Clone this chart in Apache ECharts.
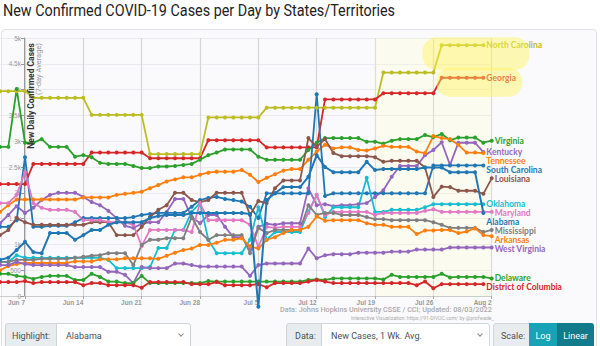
<!DOCTYPE html>
<html><head><meta charset="utf-8">
<script src="https://cdn.jsdelivr.net/npm/echarts/dist/echarts.min.js"></script>
<style>
html,body{margin:0;padding:0;width:600px;height:346px;overflow:hidden;background:#fff;font-family:Roboto,"Noto Sans",sans-serif;}
#title{position:absolute;left:3px;top:1px;font-size:16px;line-height:20px;color:#222;white-space:nowrap;transform-origin:0 0;}
#frame{position:absolute;left:1px;top:29px;width:596px;height:330px;border:1px solid #e2e2e6;border-radius:4px;background:#fafafc;box-sizing:border-box;}
#chart{position:absolute;left:0;top:0;width:600px;height:346px;}
.note{position:absolute;white-space:nowrap;color:#aaa;transform-origin:100% 50%;}
.box{position:absolute;top:323px;height:26px;line-height:24px;border:1px solid #ced4da;box-sizing:border-box;font-size:9px;color:#495057;white-space:nowrap;}
.pre{background:#e9ecef;}
.sel{background:#fff;}
.btn{color:#fff;text-align:center;border-color:transparent;}
.caret{position:absolute;right:7px;top:8px;width:3px;height:3px;border-right:1px solid #888;border-bottom:1px solid #888;transform:rotate(45deg);}
</style></head>
<body>
<div id="frame"></div>
<div id="title">New Confirmed COVID-19 Cases per Day by States/Territories</div>
<div id="chart"></div>
<div class="note" id="n1" style="font-size:7.5px;line-height:8px;font-weight:500;">Data: Johns Hopkins University CSSE / CCI; Updated: 08/03/2022</div>
<div class="note" id="n2" style="font-size:5px;line-height:5px;">Interactive Visualization: https://91-DIVOC.com/ by @profwade_</div>
<div class="box pre" style="left:5px;width:52px;padding-left:6px;border-radius:3px 0 0 3px;">Highlight:</div>
<div class="box sel" style="left:56px;width:135px;padding-left:9px;border-radius:0 3px 3px 0;">Alabama<span class="caret"></span></div>
<div class="box pre" style="left:286px;width:36px;padding-left:8px;border-radius:3px 0 0 3px;">Data:</div>
<div class="box sel" style="left:321px;width:169px;padding-left:9px;border-radius:0 3px 3px 0;">New Cases, 1 Wk. Avg.<span class="caret"></span></div>
<div class="box pre" style="left:493px;width:37px;padding-left:7px;border-radius:3px 0 0 3px;">Scale:</div>
<div class="box btn" style="left:529px;width:28px;background:#17a2b8;">Log</div>
<div class="box btn" style="left:557px;width:37px;background:#117a8b;border-radius:0 3px 3px 0;">Linear</div>
<script>
// ---- categories (Jun 4 .. Aug 2) ----
const dates = ['Jun 4','Jun 5','Jun 6','Jun 7','Jun 8','Jun 9','Jun 10','Jun 11','Jun 12','Jun 13','Jun 14','Jun 15','Jun 16','Jun 17','Jun 18','Jun 19','Jun 20','Jun 21','Jun 22','Jun 23','Jun 24','Jun 25','Jun 26','Jun 27','Jun 28','Jun 29','Jun 30',
'Jul 1','Jul 2','Jul 3','Jul 4','Jul 5','Jul 6','Jul 7','Jul 8','Jul 9','Jul 10','Jul 11','Jul 12','Jul 13','Jul 14','Jul 15','Jul 16','Jul 17','Jul 18','Jul 19','Jul 20','Jul 21','Jul 22','Jul 23','Jul 24','Jul 25','Jul 26','Jul 27','Jul 28','Jul 29','Jul 30','Jul 31','Aug 1','Aug 2'];
const tickLabels = ['Jun 7','Jun 14','Jun 21','Jun 28','Jul 5','Jul 12','Jul 19','Jul 26','Aug 2'];
const yTicks = [0,500,1000,1500,2000,2500,3000,3500,4000,4500,5000];

// ---- series values (7-day average new cases) ----
const northCarolina = [3970,3970,3970,3970,3840,3840,3840,3840,3840,3840,3840,3510,3510,3510,3510,3510,3510,3510,2750,2750,2750,2750,2750,2750,2750,3460,3460,3460,3460,3460,3460,3460,3650,3650,3650,3650,3650,3650,3650,3650,3650,3650,3650,3650,3650,3650,4330,4330,4330,4330,4330,4330,4330,4860,4860,4860,4860,4860,4860];
const georgia = [2170,2170,2170,2170,2560,2560,2560,2560,2560,2560,2560,2780,2780,2780,2780,2780,2780,2780,2670,2670,2670,2670,2670,2670,2670,3020,3020,3020,3020,3020,3020,3020,2880,2880,2880,2880,2880,2880,2880,3810,3810,3810,3810,3810,3810,3810,3930,3930,3930,3930,3930,3930,3930,4230,4230,4230,4230,4230,4230];
const virginia = [2890,2890,4010,2970,2970,3040,2890,2890,2890,2700,2730,2690,2580,2560,2560,2560,2520,2480,2480,2510,2510,2520,2540,2560,2640,2730,2780,2840,2840,2840,2840,2700,2640,2640,2640,2640,2640,2830,2970,3060,3060,3060,3060,3060,2990,2990,2950,3010,3040,3040,3040,3120,3080,3140,3020,3070,3070,3070,2970,3010];
const kentucky = [1410,1570,1740,1610,1710,1860,1960,2000,2000,2000,1920,1820,1760,1650,1510,1360,1320,1400,1430,1430,1630,1880,1880,1530,1410,1570,1570,1340,1140,1140,930,1340,1400,1380,1410,1410,1410,2090,1760,1780,1740,1760,1760,1780,1800,1920,2050,2310,2520,2520,2520,2730,2830,2980,2540,2970,2970,2970,2790];
const tennessee = [1630,1760,1870,1870,1870,1870,1870,1870,1870,1870,1910,1910,1910,1910,1960,1980,2000,2020,2090,2150,2220,2260,2300,2300,2350,2390,2410,2410,2410,2440,2350,2210,2290,2360,2430,2460,2460,2640,2800,2930,2860,2880,2880,2830,2820,2860,2910,2890,2890,2890,2800,2770,3100,3060,3040,2930,2780,2780,2770];
const southCarolina = [1340,1340,1470,2690,1340,1340,1360,1360,1360,1430,1510,1510,1510,1510,1510,1510,1530,1570,1590,1610,1610,1610,1610,1730,1860,1900,1920,1880,1860,1830,1730,1510,1990,1990,1990,1990,1990,1990,3910,1940,1990,1990,1990,1990,1990,1990,1990,1990,1990,1990,1990,1990,2530,2530,2530,2530,2530,2530,2530];
const louisiana = [1180,1280,1510,1430,1380,1380,1380,1380,1380,1380,1380,1430,1430,1430,1180,1180,1180,1340,1530,1670,1760,2000,2000,1860,1820,1860,2000,2000,2000,2000,1570,1840,1800,2090,2240,2240,2240,3060,2890,3040,2770,2710,2710,2710,2710,2690,2600,2620,2620,2620,2620,2490,1920,2120,2110,2040,2040,2040,1980,2280];
const oklahoma = [660,660,790,740,740,740,740,740,740,740,740,740,740,700,540,540,540,540,560,930,930,1280,1280,1630,1800,1090,830,830,830,830,1090,1720,1090,1240,1240,1240,1240,1630,1960,1530,1720,1720,1720,1720,2290,1630,1630,1670,1670,1670,1670,1720,1780,1780,1780,1780,1780,1780,1780];
const maryland = [1800,1800,1960,2400,1800,1710,1670,1670,1670,1630,1470,1470,1470,1430,1430,1430,1380,970,1280,1280,1280,1280,1280,1240,1800,1470,1470,1470,1470,1470,1380,950,1340,1320,1340,1340,1340,1610,1960,1570,1630,1630,1630,1630,1630,1570,1610,1610,1610,1610,1610,1650,1680,1630,1630,1630,1630,1630,1630,1630];
const alabama = [700,740,890,1050,850,830,1220,1220,1220,1090,1180,1280,1280,1380,1430,1430,1430,1430,1510,1550,1570,1570,1570,1610,1610,1610,1610,1610,1610,1610,1590,-210,1860,1990,2110,2110,2110,2310,2730,2500,2400,2400,2400,2400,2600,2440,2460,2460,2460,2460,2460,2490,2490,2490,2400,2400,2400,2400,1610];
const mississippi = [660,660,700,700,700,720,720,720,720,740,760,780,790,830,830,830,600,990,1090,1090,1120,1120,1120,1530,1240,1090,1180,1180,1180,1180,830,1320,1220,1280,1280,1280,1280,1760,1570,1610,1610,1570,1570,1570,1530,1490,1490,1470,1470,1470,1470,1470,1430,1380,1320,1320,1320,1320,1240,1280];
const arkansas = [500,580,620,640,640,640,640,640,640,670,670,670,710,710,710,730,730,730,730,720,780,840,890,920,990,990,1030,1090,1090,1120,960,920,1090,1140,1220,1280,1280,1340,1540,1460,1470,1470,1470,1470,1410,1380,1380,1340,1340,1340,1200,1270,1270,1280,1280,1220,1250,1310,1180,1160];
const westVirginia = [600,600,660,620,600,600,600,600,600,560,560,560,560,470,470,410,250,560,540,540,540,630,630,600,570,570,570,570,570,570,390,600,630,630,630,630,630,920,730,790,810,810,810,840,840,840,840,860,860,860,900,900,900,900,940,940,940,940,940,940];
const delaware = [430,430,390,370,330,370,390,390,390,310,310,430,370,280,280,250,250,390,250,250,250,250,250,250,250,290,280,280,280,280,280,280,280,280,280,280,280,310,320,310,340,340,340,340,340,340,320,410,370,370,370,370,370,430,360,370,370,370,370,340];
const districtOfColumbia = [270,270,270,290,250,270,270,270,270,270,210,250,250,210,210,210,210,160,270,270,270,270,270,230,230,230,270,210,210,210,210,230,170,250,250,250,250,280,310,280,250,250,250,250,250,250,250,250,250,250,210,280,150,230,230,230,230,230,230];

const seriesNames = ['North Carolina','Georgia','Virginia','Kentucky','Tennessee','South Carolina','Louisiana','Oklahoma','Maryland','Alabama','Mississippi','Arkansas','West Virginia','Delaware','District of Columbia'];
const seriesValues = [northCarolina,georgia,virginia,kentucky,tennessee,southCarolina,louisiana,oklahoma,maryland,alabama,mississippi,arkansas,westVirginia,delaware,districtOfColumbia];
const seriesColors = ['#bcbd22','#d62728','#2ca02c','#9467bd','#ff7f0e','#1f77b4','#8c564b','#17becf','#e377c2','#1f77b4','#7f7f7f','#ff7f0e','#9467bd','#2ca02c','#d62728'];

const isTick = (i) => tickLabels.indexOf(dates[i]) >= 0;
const fmtY = (v) => v === 0 ? '0' : (v < 1000 ? String(v) : (v / 1000) + 'k');

const chart = echarts.init(document.getElementById('chart'), null, {renderer: 'svg'});
const series = seriesNames.map((name, k) => ({
  type: 'line', name: name, data: seriesValues[k], color: seriesColors[k],
  symbol: 'circle', symbolSize: 4, showSymbol: true, showAllSymbol: true,
  lineStyle: {width: name === 'Alabama' ? 2 : 1.8}, clip: false, z: name === 'Alabama' ? 3 : 2,
  emphasis: {disabled: true}, silent: true,
  endLabel: {show: true, formatter: '{a}', color: seriesColors[k], fontWeight: 'bold', fontSize: 8.5, lineHeight: 9, fontFamily: 'Lato', distance: 3},
  labelLayout: {moveOverlap: 'shiftY'},
  markArea: k === 0 ? {silent: true, itemStyle: {color: 'rgba(255,255,200,0.22)'}, data: [[{xAxis: 'Jul 19'}, {xAxis: 'Aug 2'}]]} : undefined
}));

chart.setOption({
  animation: false,
  grid: {left: -1.6, right: 108.3, top: 38, bottom: 50, containLabel: false},
  xAxis: {
    type: 'category', data: dates, boundaryGap: false,
    axisLine: {show: true, lineStyle: {color: '#ccc'}},
    axisTick: {show: true, interval: isTick, length: 3, lineStyle: {color: '#aaa'}},
    axisLabel: {interval: isTick, align: 'right', fontSize: 6.5, color: '#999', fontWeight: 'bold', margin: 3},
    splitLine: {show: true, interval: isTick, lineStyle: {color: '#d6d6d6', width: 1.2}}
  },
  yAxis: {
    type: 'value', min: 0, max: 5000, interval: 500, offset: -24,
    axisLine: {show: true, lineStyle: {color: '#999'}},
    axisTick: {show: true, length: 3, lineStyle: {color: '#999'}},
    axisLabel: {fontSize: 6.5, color: '#999', margin: 3, formatter: fmtY},
    splitLine: {show: true, lineStyle: {color: '#ebebef'}}
  },
  series: series
});

// axis title + highlighter marks
const pNC = chart.convertToPixel({gridIndex: 0}, ['Aug 1', northCarolina[northCarolina.length - 1]]);
const pGA = chart.convertToPixel({gridIndex: 0}, ['Aug 1', georgia[georgia.length - 1]]);
chart.setOption({
  graphic: [
    {type: 'text', x: 31, y: 43, rotation: Math.PI / 2, z: 10,
     style: {text: 'New Daily Confirmed Cases', fill: '#333', font: 'bold 8.5px Roboto', align: 'right', verticalAlign: 'middle'}},
    {type: 'text', x: 38.5, y: 43, rotation: Math.PI / 2, z: 10,
     style: {text: '(7-day Average)', fill: '#999', font: '7.5px Roboto', align: 'right', verticalAlign: 'middle'}},
    {type: 'rect', x: pNC[0] - 61, y: pNC[1] - 8, z: 50, silent: true,
     shape: {width: 107, height: 33, r: 15}, style: {fill: 'rgba(255,245,90,0.45)'}},
    {type: 'rect', x: pGA[0] - 47, y: pGA[1] - 10, z: 50, silent: true,
     shape: {width: 86, height: 29, r: 14}, style: {fill: 'rgba(255,245,90,0.45)'}}
  ]
});

// fit text widths to the reference layout
function fit(el, width, rightX, cy) {
  const w = el.scrollWidth, h = el.offsetHeight;
  const s = width / w;
  if (rightX !== undefined) {
    el.style.left = (rightX - w) + 'px';
    el.style.top = (cy - h / 2) + 'px';
  }
  el.style.transform = 'scaleX(' + s + ')';
}
fit(document.getElementById('title'), 392);
fit(document.getElementById('n1'), 212, 492, 310);
fit(document.getElementById('n2'), 143, 494, 318);
</script>
</body></html>
